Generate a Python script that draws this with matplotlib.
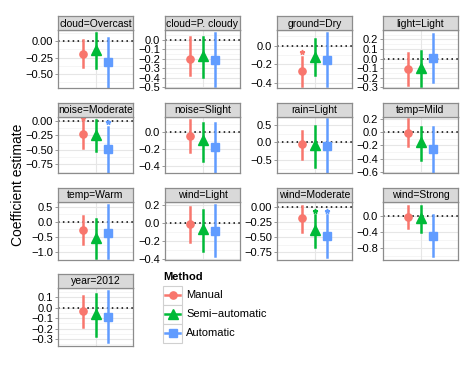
import matplotlib
matplotlib.use('Agg')
import matplotlib.pyplot as plt
from matplotlib.lines import Line2D
from matplotlib.patches import Rectangle

# Coefficient estimates with intervals for each covariate level and method

panels = ['cloud=Overcast', 'cloud=P. cloudy', 'ground=Dry', 'light=Light',
          'noise=Moderate', 'noise=Slight', 'rain=Light', 'temp=Mild',
          'temp=Warm', 'wind=Light', 'wind=Moderate', 'wind=Strong',
          'year=2012']

methods = ['Manual', 'Semi\u2212automatic', 'Automatic']
colors = ['#F8766D', '#00BA38', '#619CFF']
markers = ['o', '^', 's']
msizes = [5.2, 6.8, 5.8]

manual_est = [-0.19, -0.20, -0.27, -0.107, -0.23, -0.04, -0.05, -0.006, -0.28, -0.015, -0.19, -0.017, -0.03]
manual_lo = [-0.39, -0.37, -0.43, -0.275, -0.47, -0.23, -0.46, -0.21, -0.74, -0.21, -0.42, -0.30, -0.18]
manual_hi = [0.02, 0.035, -0.117, 0.056, 0.03, 0.146, 0.33, 0.20, 0.19, 0.18, 0.015, 0.25, 0.11]

semi_est = [-0.14, -0.17, -0.124, -0.10, -0.24, -0.09, -0.077, -0.145, -0.52, -0.07, -0.39, -0.057, -0.06]
semi_lo = [-0.41, -0.39, -0.31, -0.29, -0.52, -0.34, -0.70, -0.415, -1.17, -0.31, -0.67, -0.39, -0.27]
semi_hi = [0.12, 0.035, 0.067, 0.08, 0.02, 0.11, 0.47, 0.077, 0.10, 0.14, -0.13, 0.25, 0.128]

auto_est = [-0.32, -0.21, -0.15, 0.004, -0.49, -0.18, -0.10, -0.257, -0.36, -0.09, -0.49, -0.49, -0.086]
auto_lo = [-0.69, -0.49, -0.43, -0.24, -0.90, -0.466, -0.84, -0.60, -1.17, -0.37, -0.83, -1.00, -0.33]
auto_hi = [0.05, 0.07, 0.13, 0.26, -0.10, 0.107, 0.66, 0.086, 0.55, 0.197, -0.13, 0.025, 0.16]

# significance stars: (panel index, method index, y)
stars = [(2, 0, -0.064), (4, 0, 0.06), (4, 2, -0.02), (10, 1, -0.07), (10, 2, -0.07)]

ylims = [(-0.71, 0.167), (-0.507, 0.106), (-0.45, 0.167), (-0.307, 0.297),
         (-0.906, 0.075), (-0.487, 0.185), (-0.88, 0.737), (-0.625, 0.24),
         (-1.25, 0.66), (-0.41, 0.237), (-0.88, 0.083), (-1.09, 0.35),
         (-0.365, 0.19)]
yticks = [[0.0, -0.25, -0.5], [0.0, -0.1, -0.2, -0.3, -0.4, -0.5], [0.0, -0.2, -0.4],
          [0.2, 0.1, 0.0, -0.1, -0.2, -0.3], [0.0, -0.25, -0.5, -0.75], [0.0, -0.2, -0.4],
          [0.5, 0.0, -0.5], [0.2, 0.0, -0.2, -0.4, -0.6], [0.5, 0.0, -0.5, -1.0],
          [0.2, 0.0, -0.2, -0.4], [0.0, -0.25, -0.5, -0.75], [0.0, -0.4, -0.8],
          [0.1, 0.0, -0.1, -0.2, -0.3]]
tickfmt = ['%.2f', '%.1f', '%.1f', '%.1f', '%.2f', '%.1f', '%.1f', '%.1f', '%.1f',
           '%.1f', '%.2f', '%.1f', '%.1f']

est = [manual_est, semi_est, auto_est]
lo = [manual_lo, semi_lo, auto_lo]
hi = [manual_hi, semi_hi, auto_hi]
xpos = [-0.25, 0.0, 0.25]

W, H = 474, 379
fig = plt.figure(figsize=(W / 100, H / 100), dpi=100)
plt.rcParams['font.family'] = ['Liberation Sans', 'DejaVu Sans']

col_left = [58, 165, 277, 383]
col_w = 75
row_top = [30, 116.7, 201.7, 287.7]
row_bot = [88, 173.3, 260, 346]
strip_h = 14

for i, name in enumerate(panels):
    r, c = divmod(i, 4)
    left = col_left[c] / W
    bottom = 1 - row_bot[r] / H
    height = (row_bot[r] - row_top[r]) / H
    ax = fig.add_axes([left, bottom, col_w / W, height])

    # minor and major grid
    lo_y, hi_y = ylims[i]
    t = yticks[i]
    step = abs(t[0] - t[1])
    for k in range(len(t) - 1):
        ax.axhline((t[k] + t[k + 1]) / 2, color='#f4f4f4', lw=0.6, zorder=0)
    ax.axhline(t[0] + step / 2, color='#f4f4f4', lw=0.6, zorder=0)
    ax.axhline(t[-1] - step / 2, color='#f4f4f4', lw=0.6, zorder=0)
    for v in t:
        ax.axhline(v, color='#e6e6e6', lw=0.8, zorder=0)
    ax.axvline(0, color='#e6e6e6', lw=0.8, zorder=0)

    ax.axhline(0, color='black', ls=(0, (1, 2.2)), lw=1.1, zorder=1)

    for m in range(3):
        ax.plot([xpos[m], xpos[m]], [lo[m][i], hi[m][i]], color=colors[m], lw=1.8, zorder=2)
        ax.plot(xpos[m], est[m][i], marker=markers[m], color=colors[m],
                markersize=msizes[m], zorder=3, linestyle='none')
    for (p, m, y) in stars:
        if p == i:
            ax.plot(xpos[m], y, marker='*', color=colors[m], markersize=3.5,
                    linestyle='none', zorder=3)

    ax.set_xlim(-0.75, 0.75)
    ax.set_ylim(lo_y, hi_y)
    ax.set_xticks([])
    ax.set_yticks(t)
    ax.set_yticklabels([(tickfmt[i] % v).replace('-', '\u2212') for v in t])
    ax.tick_params(axis='y', labelsize=8, length=2, width=0.6, color='#888888', pad=1.5)
    for s in ax.spines.values():
        s.set_color('#8c8c8c')
        s.set_linewidth(0.9)

    # facet strip
    sax = fig.add_axes([left, 1 - row_top[r] / H, col_w / W, strip_h / H])
    sax.set_facecolor('#d9d9d9')
    sax.set_xticks([])
    sax.set_yticks([])
    for s in sax.spines.values():
        s.set_color('#8c8c8c')
        s.set_linewidth(0.9)
    sax.text(0.5, 0.45, name, ha='center', va='center', fontsize=7.5, transform=sax.transAxes)

fig.text(18 / W, 1 - 185 / H, 'Coefficient estimate', rotation=90,
         ha='center', va='center', fontsize=10)

# legend
fig.text(163 / W, 1 - 277 / H, 'Method', fontsize=8, fontweight='bold', va='center')
key_y = [295, 314, 333]
for m in range(3):
    y = 1 - key_y[m] / H
    fig.patches.append(Rectangle((163 / W, y - 9.5 / H), 19 / W, 19 / H,
                                 transform=fig.transFigure, facecolor='white',
                                 edgecolor='#d0d0d0', lw=0.8))
    fig.lines.append(Line2D([165 / W, 180 / W], [y, y], color=colors[m], lw=1.8,
                            transform=fig.transFigure))
    fig.lines.append(Line2D([172.5 / W], [y], marker=markers[m], color=colors[m],
                            markersize=msizes[m], transform=fig.transFigure))
    fig.text(186 / W, y, methods[m], fontsize=8, va='center')

fig.savefig('out.png', dpi=100)
